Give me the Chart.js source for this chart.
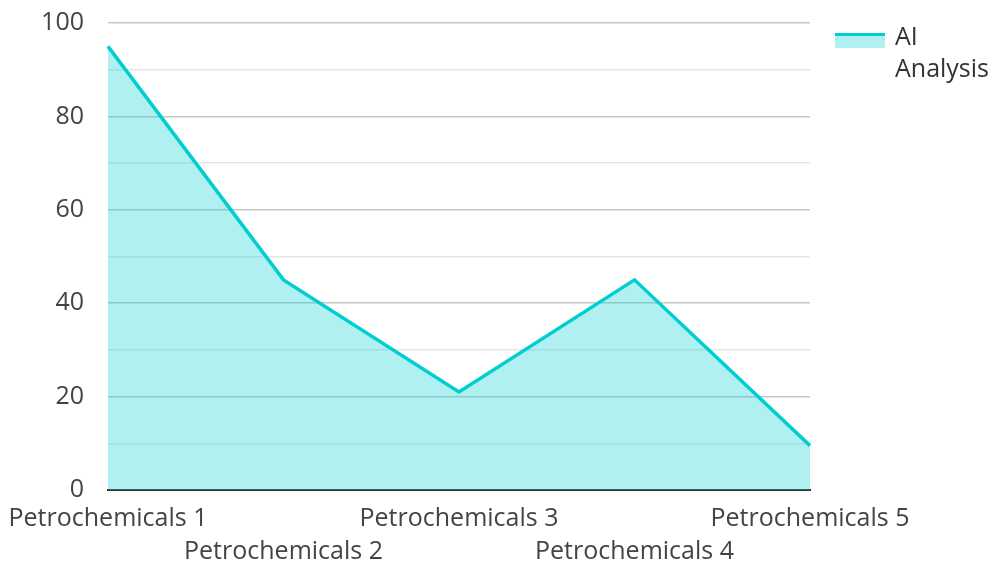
<!DOCTYPE html>
<html>
<head>
<meta charset="utf-8">
<script src="https://cdn.jsdelivr.net/npm/chart.js@4"></script>
<style>
  html, body { margin: 0; padding: 0; background: #fff; }
  #wrap { position: relative; width: 992px; height: 562px; }
  #legend { position: absolute; left: 835px; top: 19px; font-family: 'Open Sans', sans-serif; font-size: 25px; color: #333; }
  #legend ul { list-style: none; margin: 0; padding: 0; }
  #legend li { display: flex; align-items: flex-start; }
  #legend span.box { display: inline-block; width: 50px; height: 12px; margin-top: 14px; margin-right: 10px; }
  #legend span.txt { width: 100px; line-height: 32px; }
</style>
</head>
<body>
<div id="wrap">
  <canvas id="chart" width="992" height="562"></canvas>
  <div id="legend"></div>
</div>
<script>
const categories = ['Petrochemicals 1', 'Petrochemicals 2', 'Petrochemicals 3', 'Petrochemicals 4', 'Petrochemicals 5'];
const aiAnalysis = [95, 45, 21, 45, 9.5];
const yTicks = [0, 20, 40, 60, 80, 100];

const lineColor = 'rgb(0, 206, 209)';
const fillColor = 'rgba(0, 206, 209, 0.31)';

let customLegend = function (chart) {
    let ul = document.createElement('ul');
    chart.data.datasets.forEach(function (ds) {
        ul.innerHTML += `<li><span class="box" style="background-color: ${ds.backgroundColor}; border-top: 3px solid ${ds.borderColor};"></span><span class="txt">${ds.label}</span></li>`;
    });
    return ul.outerHTML;
};

let noEdgePadding = function (scale) {
    scale.paddingTop = 0;
    scale.paddingBottom = 0;
    scale.paddingLeft = 0;
    scale.paddingRight = 0;
};

let chartDraw = function () {
    let ctx = document.getElementById('chart').getContext('2d');
    window.aiChart = new Chart(ctx, {
        type: 'line',
        data: {
            labels: categories,
            datasets: [{
                label: 'AI Analysis',
                data: aiAnalysis,
                borderColor: lineColor,
                backgroundColor: fillColor,
                borderWidth: 3.5,
                fill: 'origin',
                pointRadius: 0,
                tension: 0
            }]
        },
        options: {
            responsive: false,
            animation: false,
            layout: { padding: { top: 23, right: 182, left: 0, bottom: 0 } },
            plugins: {
                legend: { display: false },
                tooltip: { enabled: false }
            },
            scales: {
                x: {
                    offset: false,
                    grid: { display: false, drawTicks: false },
                    border: { display: true, color: '#333', width: 2 },
                    ticks: {
                        color: '#444',
                        font: { family: 'Open Sans', size: 25, lineHeight: 1.3 },
                        maxRotation: 0,
                        autoSkip: false,
                        padding: 13,
                        callback: function (value, index) {
                            let name = categories[index];
                            return index % 2 === 0 ? [name, ''] : ['', name];
                        }
                    },
                    afterFit: function (scale) { scale.height = 72; noEdgePadding(scale); }
                },
                y: {
                    min: 0,
                    max: 100,
                    grid: {
                        drawTicks: false,
                        lineWidth: 1.5,
                        color: function (c) {
                            if (c.tick && yTicks.includes(c.tick.value)) return '#c8c8c8';
                            return '#e6e6e6';
                        }
                    },
                    border: { display: false },
                    ticks: {
                        stepSize: 10,
                        color: '#444',
                        padding: 24,
                        font: { family: 'Open Sans', size: 25 },
                        callback: function (value) {
                            return yTicks.includes(value) ? value : '';
                        }
                    },
                    afterFit: function (scale) { scale.width = 108; noEdgePadding(scale); }
                }
            }
        }
    });
};

chartDraw();
document.getElementById('legend').innerHTML = customLegend(window.aiChart);
</script>
</body>
</html>
